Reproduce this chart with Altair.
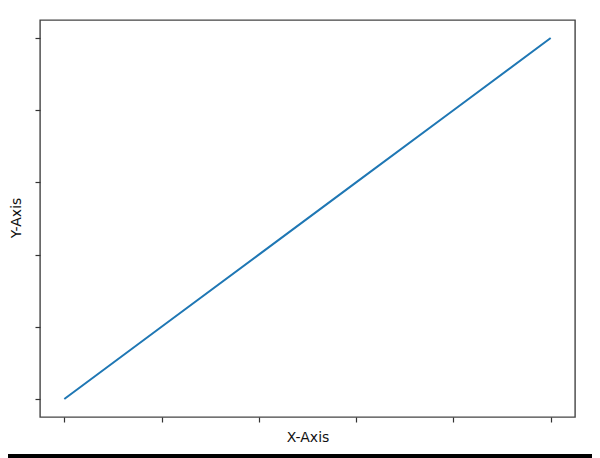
import altair as alt
import pandas as pd

x_vals = [1, 2, 3, 4, 5, 6]
y_vals = [1, 2, 3, 4, 5, 6]
tick_vals = [1, 2, 3, 4, 5, 6]

df = pd.DataFrame({"x": x_vals, "y": y_vals})

W, H = 535, 397

line = alt.Chart(df).mark_line(color="#1f77b4", strokeWidth=2).encode(
    x=alt.X("x:Q", scale=alt.Scale(domain=[0.75, 6.25], nice=False, zero=False),
            axis=alt.Axis(title="X-Axis", labels=False, grid=False, domain=False,
                          values=tick_vals, tickSize=5, tickWidth=1.2, tickColor="#333",
                          titleFont="DejaVu Sans", titleFontSize=14, titleFontWeight="normal",
                          titleColor="#111", titleY=20, titleBaseline="middle")),
    y=alt.Y("y:Q", scale=alt.Scale(domain=[0.75, 6.25], nice=False, zero=False),
            axis=alt.Axis(title="Y-Axis", labels=False, grid=False, domain=False,
                          values=tick_vals, tickSize=5, tickWidth=1.2, tickColor="#333",
                          titleFont="DejaVu Sans", titleFontSize=14, titleFontWeight="normal",
                          titleColor="#111", titleX=-24, titleY=H / 2 - 1, titleAngle=-90,
                          titleBaseline="middle", titleAlign="center")),
)

band = alt.Chart(pd.DataFrame({"k": [0]})).mark_rule(color="#000", strokeWidth=4).encode(
    x=alt.value(-32), x2=alt.value(W + 17), y=alt.value(436)
)

chart = alt.layer(line, band).properties(
    width=W, height=H,
    autosize=alt.AutoSizeParams(type="none"),
    padding={"left": 32, "top": 12, "right": 17, "bottom": 41},
    background="white",
).configure_view(stroke="#444444", strokeWidth=1.4)

chart.save("out.html", embed_options={"renderer": "svg", "actions": False})
